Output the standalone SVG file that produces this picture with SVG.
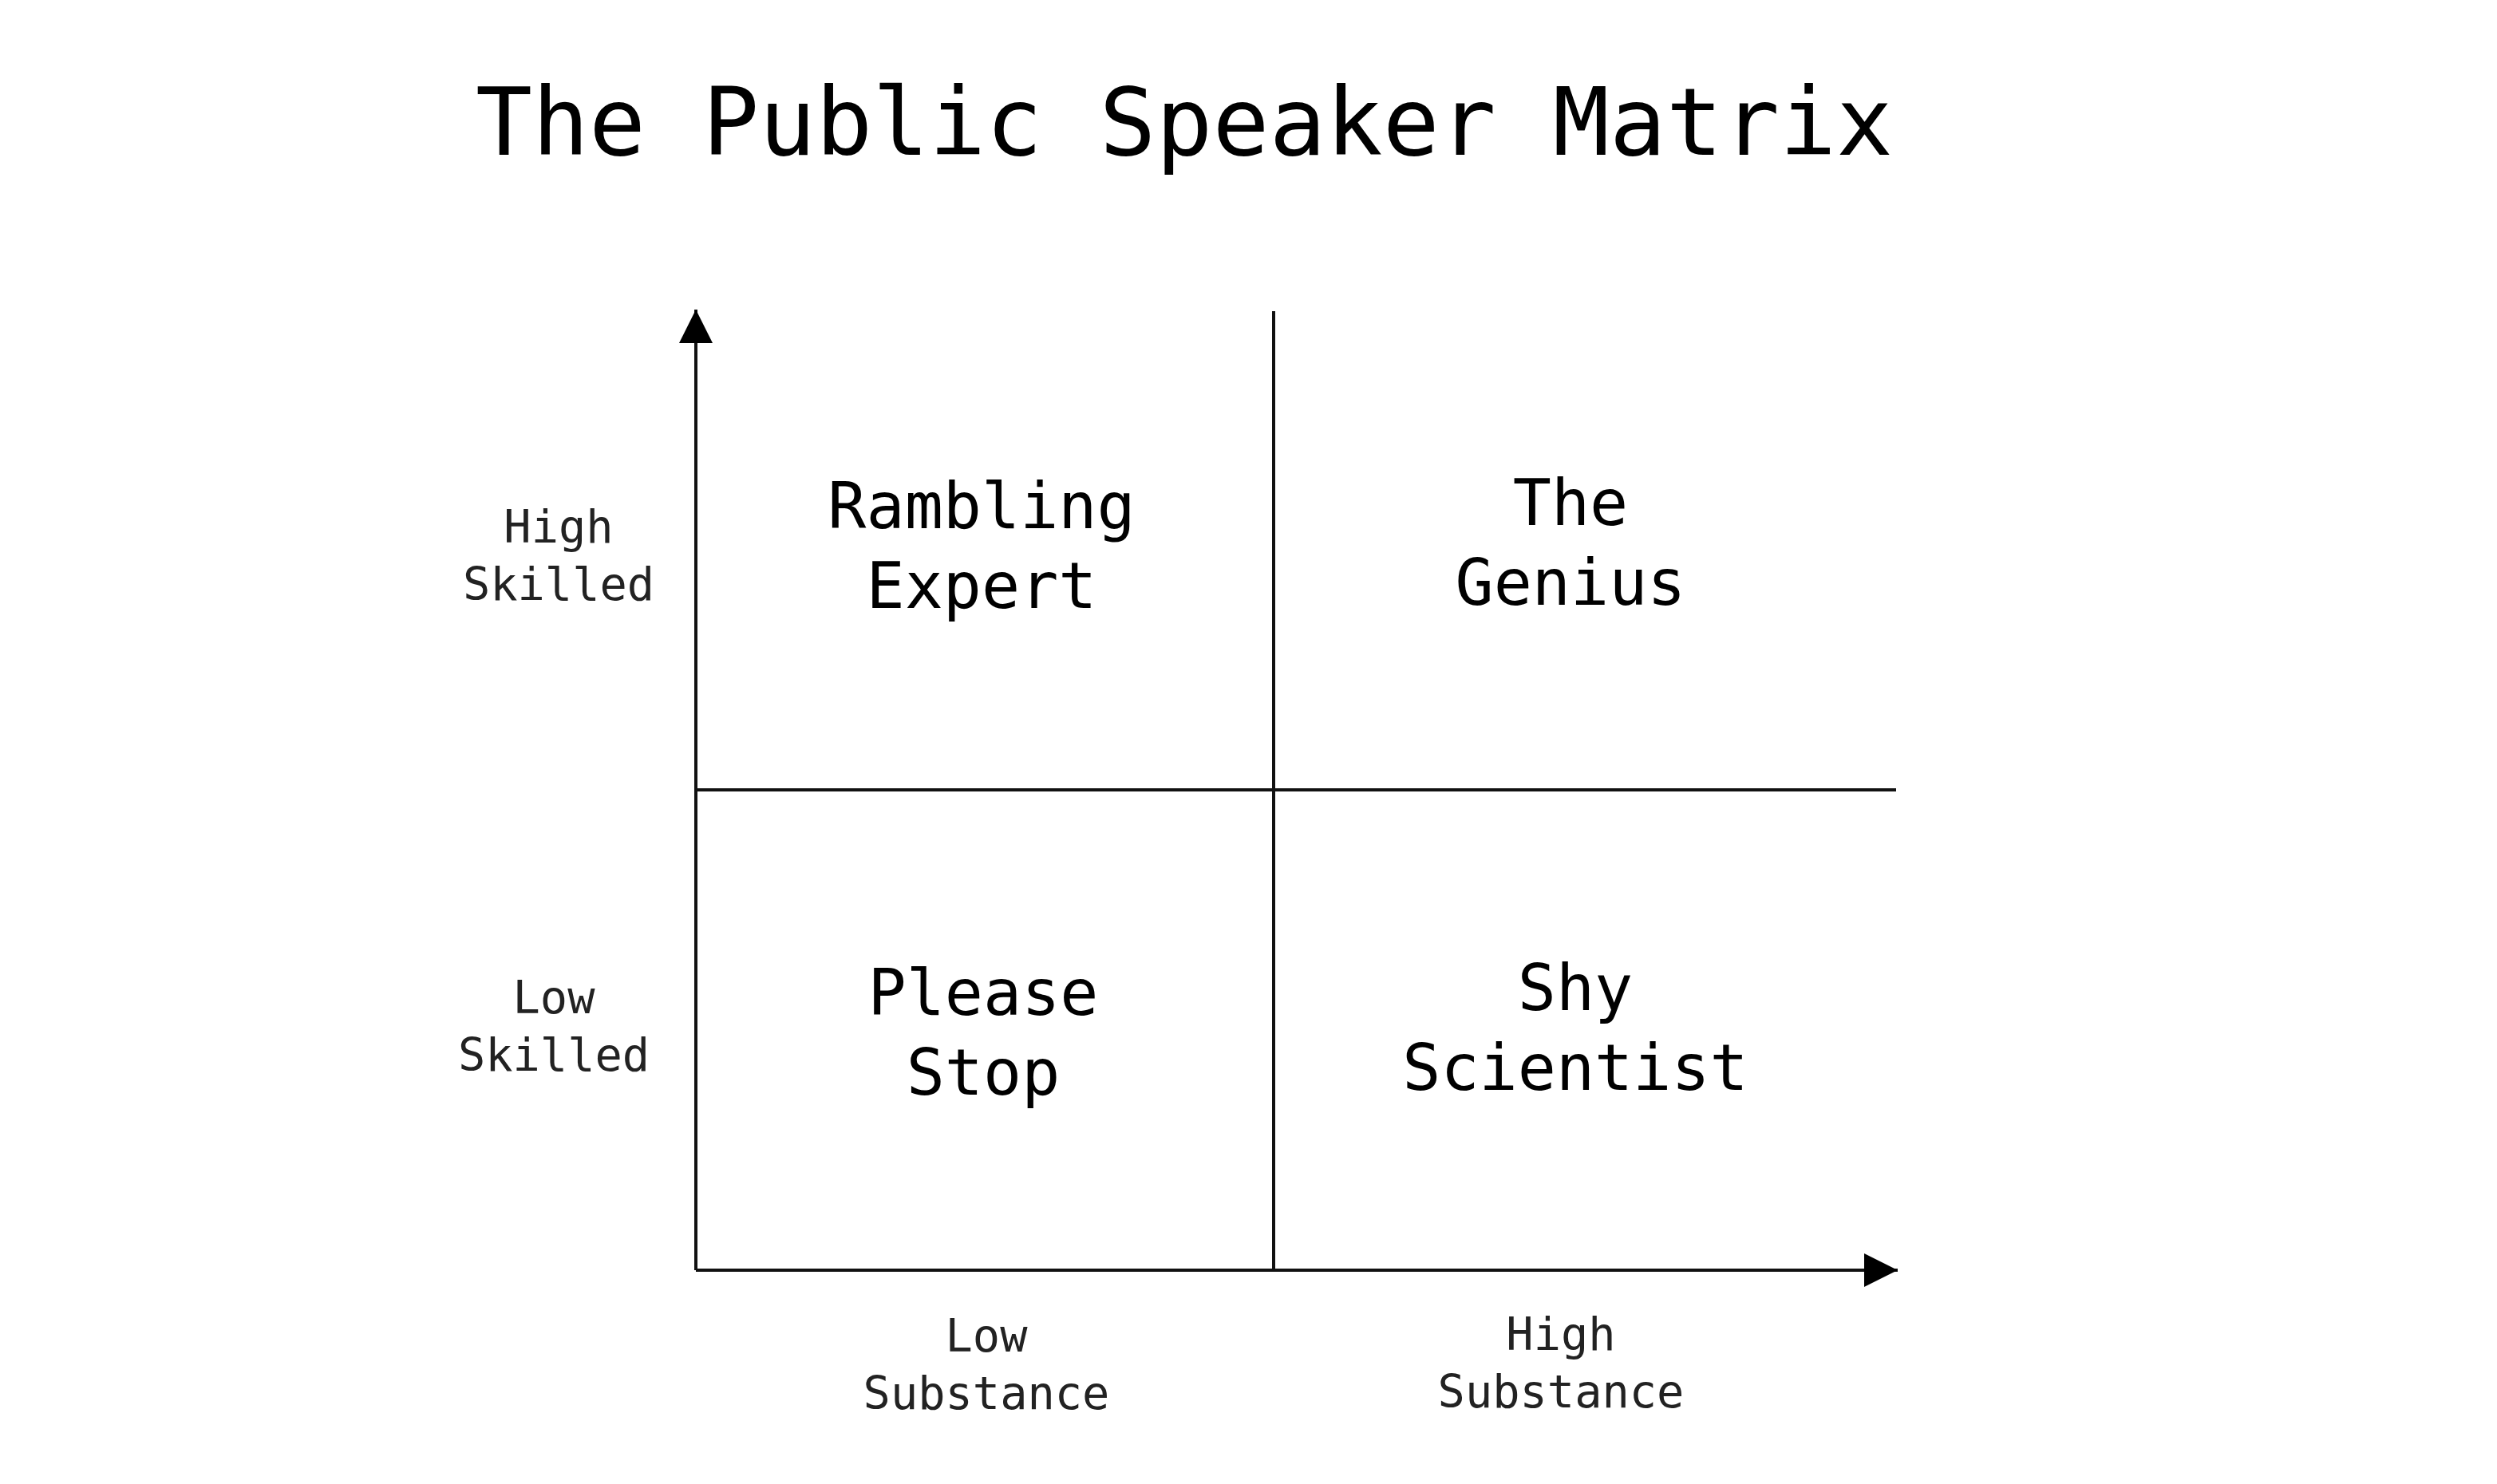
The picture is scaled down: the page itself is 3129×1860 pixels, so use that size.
<svg xmlns="http://www.w3.org/2000/svg" width="3129" height="1860" viewBox="0 0 3129 1860">
<style>
text{font-family:"DejaVu Sans Mono","Liberation Mono",monospace;fill:#000;text-anchor:middle}
.t{font-size:118px}
.q{font-size:80px}
.a{font-size:57px;fill:#222}
.l{stroke:#111;stroke-width:4;fill:none}
</style>
<defs>
<marker id="ah" viewBox="0 0 10 10" refX="10" refY="5" markerWidth="44" markerHeight="42" markerUnits="userSpaceOnUse" orient="auto">
<path d="M0,0L10,5L0,10z" fill="#000"/>
</marker>
</defs>
<text class="t" x="1484" y="194">The Public Speaker Matrix</text>
<g id="connectors">
<line class="l" x1="872" y1="1592" x2="872" y2="388" marker-end="url(#ah)"/>
<line class="l" x1="872" y1="1592" x2="2378" y2="1592" marker-end="url(#ah)"/>
<line class="l" x1="1596" y1="390" x2="1596" y2="1594"/>
<line class="l" x1="872" y1="990" x2="2376" y2="990"/>
</g>
<g id="rambling"><text class="q" x="1230" y="662">Rambling</text><text class="q" x="1230" y="762">Expert</text></g>
<g id="genius"><text class="q" x="1968" y="658">The</text><text class="q" x="1968" y="758">Genius</text></g>
<g id="please"><text class="q" x="1232" y="1272">Please</text><text class="q" x="1232" y="1372">Stop</text></g>
<g id="shy"><text class="q" x="1974" y="1266">Shy</text><text class="q" x="1974" y="1366">Scientist</text></g>
<g id="highskilled"><text class="a" x="700" y="680">High</text><text class="a" x="700" y="752">Skilled</text></g>
<g id="lowskilled"><text class="a" x="694" y="1270">Low</text><text class="a" x="694" y="1342">Skilled</text></g>
<g id="lowsub"><text class="a" x="1236" y="1694">Low</text><text class="a" x="1236" y="1766">Substance</text></g>
<g id="highsub"><text class="a" x="1956" y="1692">High</text><text class="a" x="1956" y="1764">Substance</text></g>
</svg>
